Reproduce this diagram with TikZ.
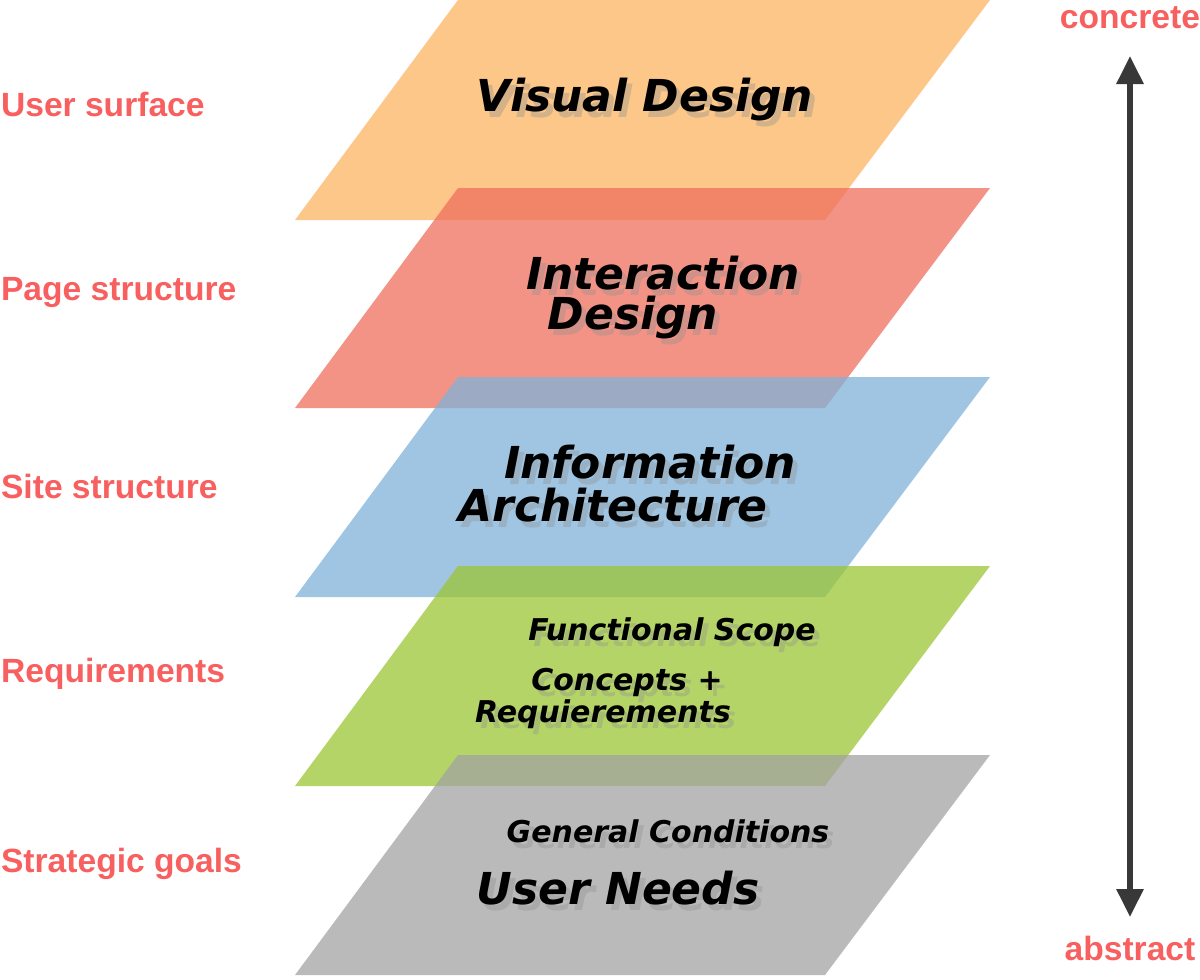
\documentclass[tikz,border=0pt]{standalone}
\usepackage{fontspec}
\setmainfont{Liberation Sans}
\newfontfamily\layerfont{DejaVu Sans}
\usetikzlibrary{arrows.meta,calc}
\definecolor{lbl}{HTML}{F85F5F}
\definecolor{cOr}{HTML}{FBB460}
\definecolor{cRe}{HTML}{EF6F5E}
\definecolor{cBl}{HTML}{7FB2D8}
\definecolor{cGr}{HTML}{9CC634}
\definecolor{cGy}{HTML}{A3A3A3}
\newcommand{\lay}[2]{% #1 color #2 top y
  \fill[#1,fill opacity=0.75] (458,#2) -- (990,#2) -- (825,#2+220) -- (295,#2+220) -- cycle;}
\newcommand{\ltext}[4]{% name, pos, size, text
  \node[text=black!45,opacity=0.35,font=\layerfont\bfseries\itshape\fontsize{#3}{#3}\selectfont] at ($(#2)+(5,6)$) {#4};
  \node (#1)[font=\layerfont\bfseries\itshape\fontsize{#3}{#3}\selectfont] at (#2) {#4};}
\tikzset{side/.style={text=lbl,font=\bfseries\fontsize{16.8}{19}\selectfont,anchor=west}}
\begin{document}
\begin{tikzpicture}[x=0.5pt,y=-0.5pt]
\useasboundingbox (0,0) rectangle (1200,980);
\lay{cOr}{0}
\lay{cRe}{188}
\lay{cBl}{377}
\lay{cGr}{566}
\lay{cGy}{755}
\ltext{vd}{645,100}{22}{Visual Design}
\ltext{ia}{663,273}{22}{Interaction}
\ltext{ib}{633,318}{22}{Design}
\ltext{fa}{650,462}{22}{Information}
\ltext{fb}{613,505}{22}{Architecture}
\ltext{fs}{672,632}{15}{Functional Scope}
\ltext{ca}{627,682}{15}{Concepts +}
\ltext{cb}{603,714}{15}{Requierements}
\ltext{gc}{668,831}{15}{General Conditions}
\ltext{un}{618,888}{22}{User Needs}
\node[side] (l1) at (-6,104) {User surface};
\node[side] (l2) at (-6,292) {Page structure};
\node[side] (l3) at (-6,486) {Site structure};
\node[side] (l4) at (-6,674) {Requirements};
\node[side] (l5) at (-6,864) {Strategic goals};
\node[side,anchor=center] (co) at (1130,18) {concrete};
\node[side,anchor=center] (ab) at (1130,948) {abstract};
\coordinate (t) at (1130,56);
\coordinate (b) at (1130,917);
\draw[line width=3pt,draw=black!78,{Triangle[length=14pt,width=13pt]}-{Triangle[length=14pt,width=13pt]}] (t) -- (b);
\end{tikzpicture}
\end{document}
